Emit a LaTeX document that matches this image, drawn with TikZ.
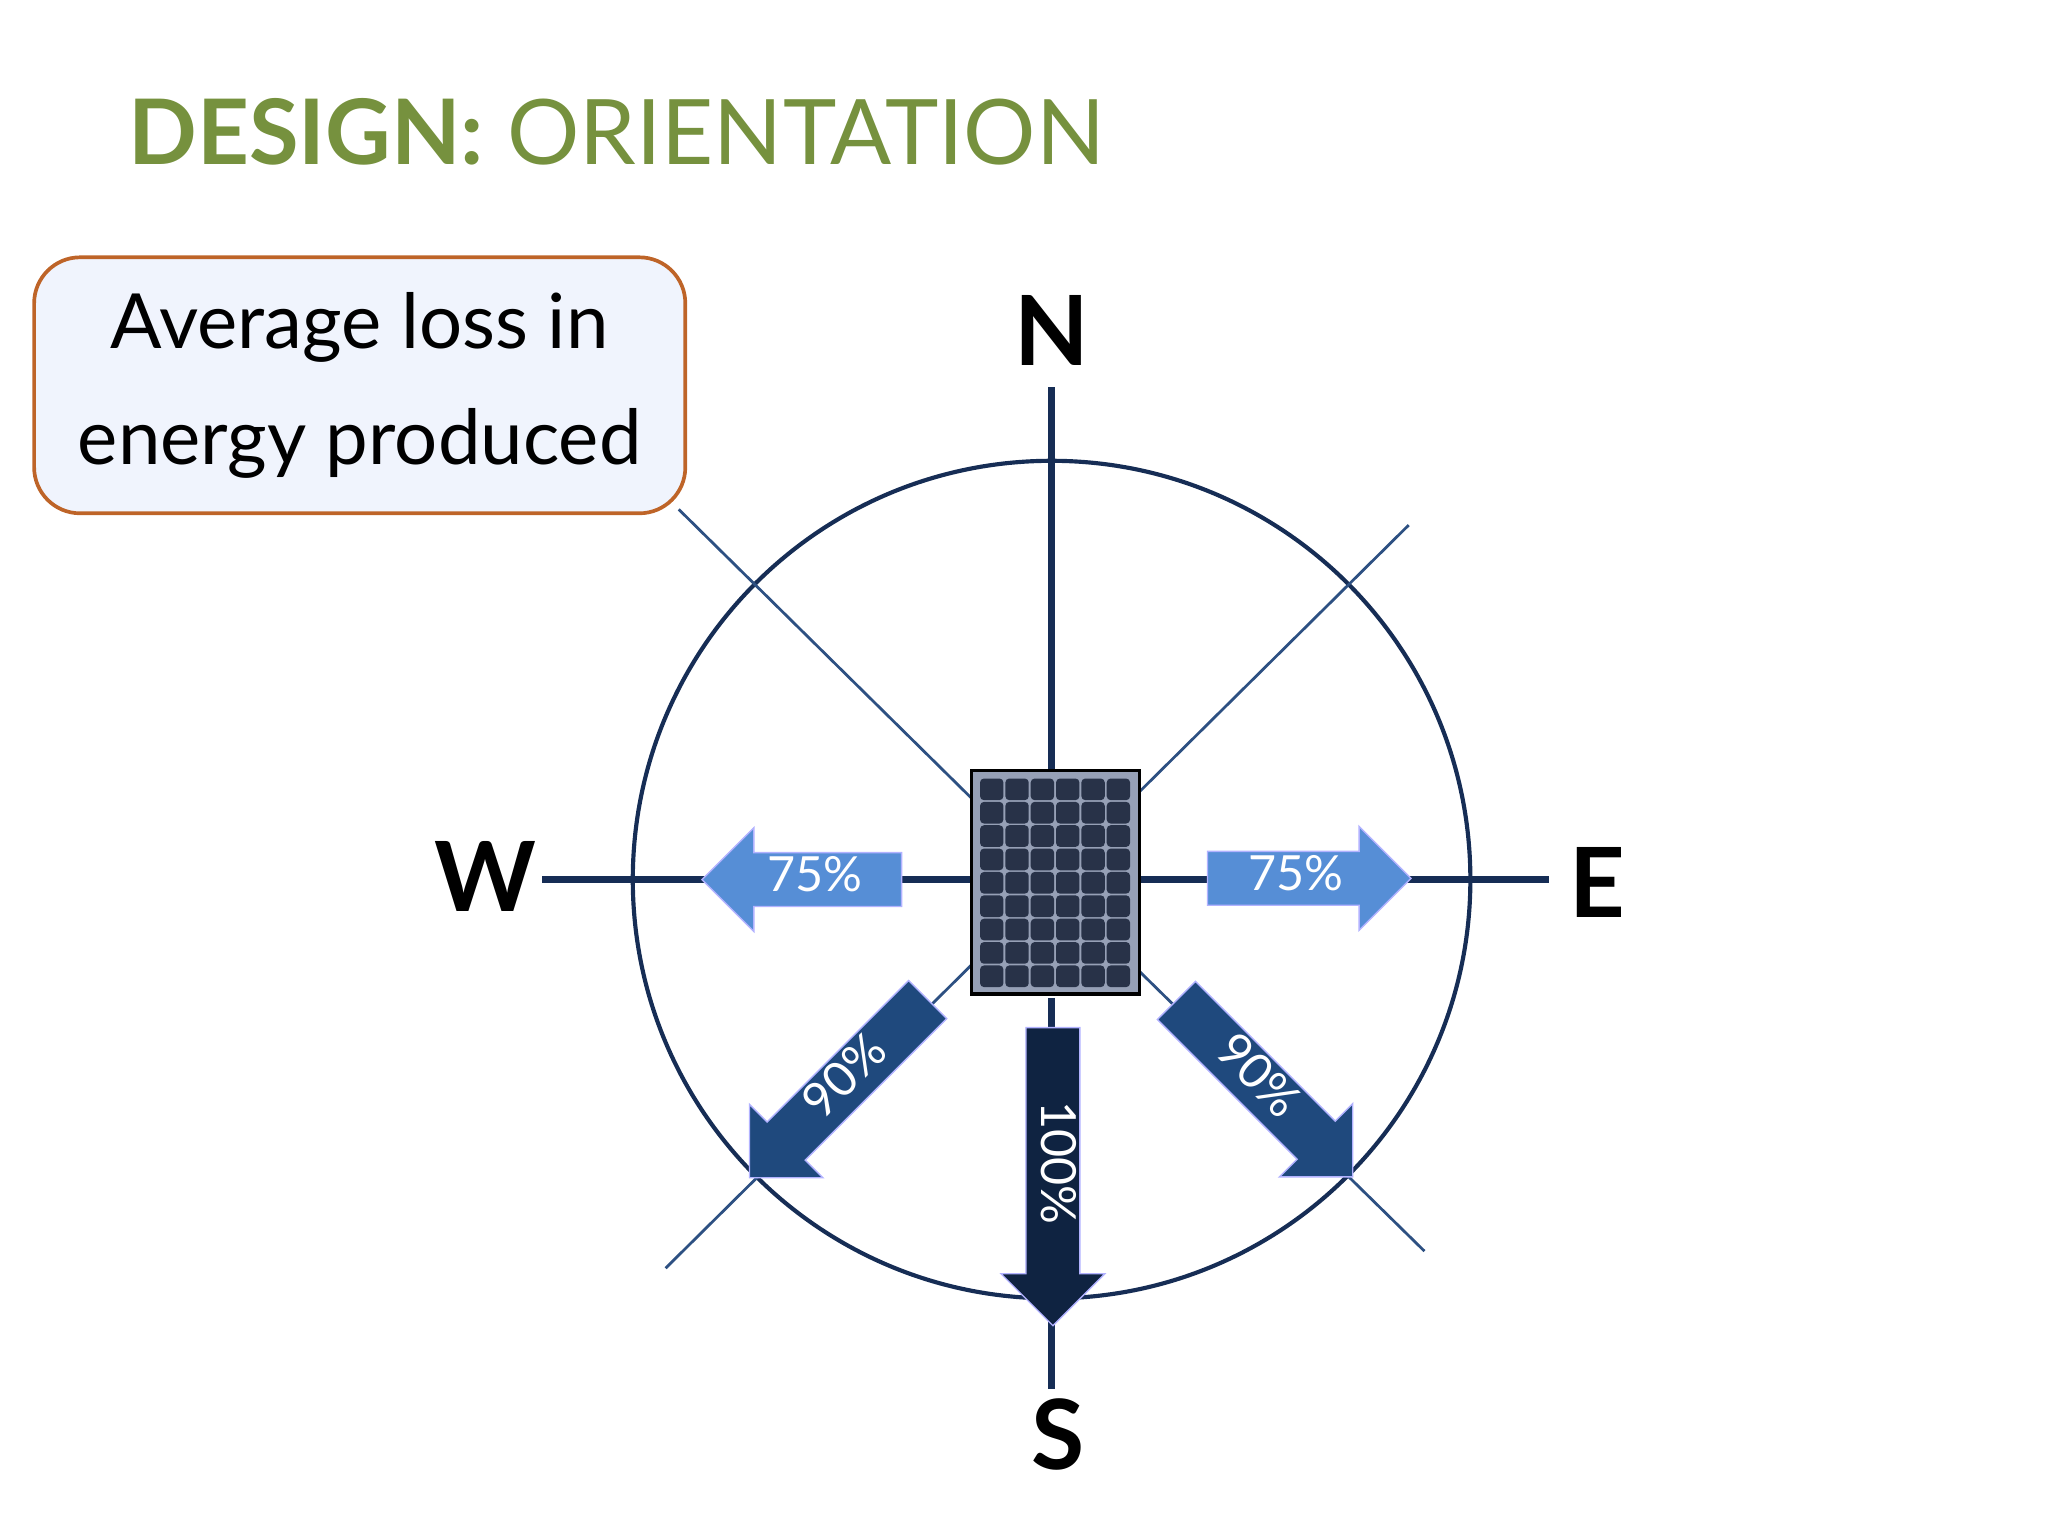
\documentclass[tikz,border=0pt]{standalone}
\usepackage{fontspec}
\setmainfont{Lato}
\usetikzlibrary{shapes.arrows}
\definecolor{titlegreen}{RGB}{118,145,62}
\definecolor{boxfill}{RGB}{240,244,253}
\definecolor{boxdraw}{RGB}{190,100,40}
\definecolor{navy}{RGB}{22,45,85}
\definecolor{diagline}{RGB}{45,80,130}
\definecolor{lightarrow}{RGB}{86,142,214}
\definecolor{midarrow}{RGB}{31,73,125}
\definecolor{darkarrow}{RGB}{15,35,65}
\definecolor{panelgrey}{RGB}{150,160,182}
\definecolor{cellblue}{RGB}{40,50,72}

\begin{document}
\begin{tikzpicture}[
    dir/.style={font=\fontsize{21}{21}\selectfont\bfseries},
    axis/.style={navy, line width=1.6pt},
    diag/.style={diagline, line width=0.6pt},
    pct/.style={single arrow, draw=white!70!blue, line width=0.3pt, text=white,
      font=\fontsize{10.5}{10.5}\selectfont, text height=0.24cm, text depth=0.06cm,
      inner ysep=0.05cm, inner xsep=0.1cm, single arrow head extend=0.19cm,
      single arrow tip angle=90}
    ]
    \useasboundingbox (0,0) rectangle (15.6,-11.7);

    % title
    \node[anchor=base west, inner sep=0, text=titlegreen,
      font=\fontsize{19.6}{19.6}\selectfont] (title) at (0.97,-1.25)
      {\textbf{DESIGN:} ORIENTATION};

    % legend box
    \node[draw=boxdraw, fill=boxfill, rounded corners=0.35cm, line width=0.8pt,
      minimum width=4.96cm, minimum height=1.95cm, align=center,
      font=\fontsize{16.5}{25}\selectfont] (legend) at (2.74,-2.935)
      {Average loss in\\energy produced};

    % compass
    \coordinate (c) at (8.01,-6.70);
    \draw[navy, line width=0.9pt] (c) circle (3.19);
    \draw[diag] (5.17,-3.88) -- (7.40,-6.08);
    \draw[diag] (10.73,-4.00) -- (8.68,-6.03);
    \draw[diag] (5.07,-9.66) -- (7.40,-7.35);
    \draw[diag] (10.85,-9.53) -- (8.68,-7.40);
    \draw[axis] (8.01,-2.95) -- (8.01,-5.87);
    \draw[axis] (8.01,-7.60) -- (8.01,-10.58);
    \draw[axis] (4.13,-6.70) -- (7.40,-6.70);
    \draw[axis] (8.68,-6.70) -- (11.80,-6.70);

    \node[dir] (north) at (8.01,-2.52) {N};
    \node[dir] (south) at (8.06,-10.93) {S};
    \node[dir] (west) at (3.70,-6.68) {W};
    \node[dir] (east) at (12.17,-6.72) {E};

    % solar panel
    \fill[panelgrey, draw=black, line width=0.8pt] (7.40,-5.87) rectangle (8.68,-7.57);
    \foreach \i in {0,...,5}
      \foreach \j in {0,...,8}
        \fill[cellblue, rounded corners=0.03cm]
          (7.465+\i*0.193,-5.93-\j*0.178) rectangle ++(0.178,-0.165);

    % arrows
    \node[pct, fill=lightarrow, minimum height=1.52cm, shape border rotate=180]
      (westarrow) at (6.21,-6.70) {75\%};
    \node[pct, fill=lightarrow, minimum height=1.55cm]
      (eastarrow) at (9.87,-6.69) {75\%};
    \node[pct, fill=darkarrow, minimum height=2.27cm, rotate=-90]
      (southarrow) at (8.02,-8.86) {100\%};
    \node[pct, fill=midarrow, minimum height=1.92cm, rotate=45, shape border rotate=180]
      (swarrow) at (6.46,-8.22) {90\%};
    \node[pct, fill=midarrow, minimum height=1.90cm, rotate=-45]
      (searrow) at (9.56,-8.22) {90\%};
\end{tikzpicture}
\end{document}
